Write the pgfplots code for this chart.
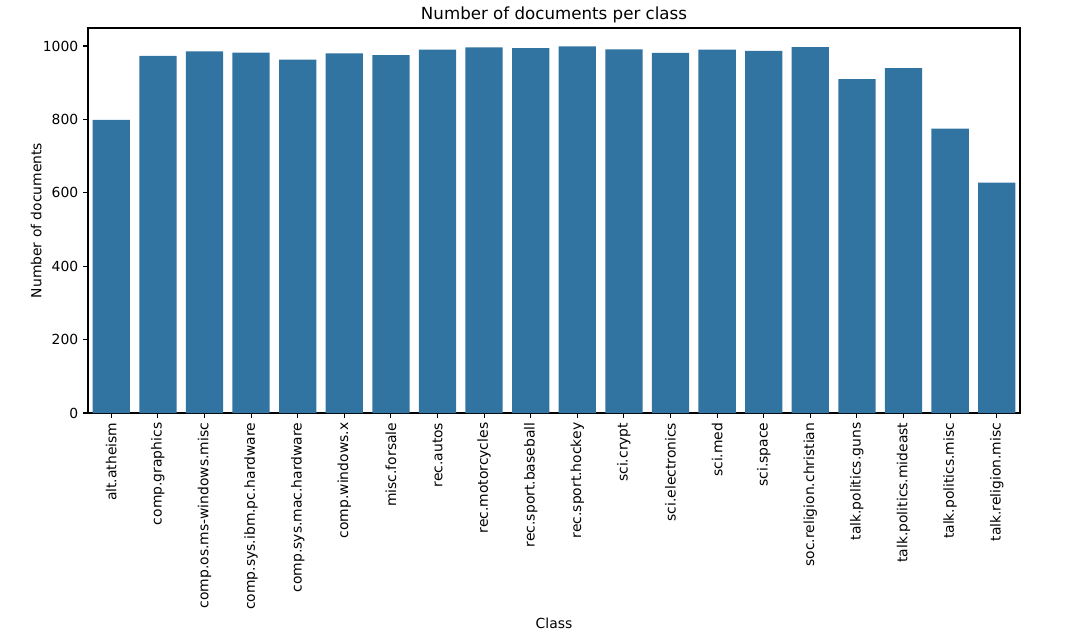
\documentclass[border=0pt]{standalone}
\usepackage{pgfplots}
\pgfplotsset{compat=1.18}
\usepackage{fontspec}
\setmainfont{DejaVu Sans}
\definecolor{barblue}{RGB}{50,116,161}
\begin{document}
\begin{tikzpicture}
% fix page to reference size (1px = 0.72pt)
\path[use as bounding box] (-63.36pt,-158.4pt) rectangle (706.32pt,297.36pt);
\begin{axis}[
at={(0,0)}, anchor=south west,
scale only axis,
width=671.04pt, height=277.2pt,
xmin=-0.5, xmax=19.5,
ymin=0, ymax=1049,
ytick={0,200,400,600,800,1000},
xtick={0,...,19},
xticklabels={alt.atheism,comp.graphics,comp.os.ms-windows.misc,comp.sys.ibm.pc.hardware,comp.sys.mac.hardware,comp.windows.x,misc.forsale,rec.autos,rec.motorcycles,rec.sport.baseball,rec.sport.hockey,sci.crypt,sci.electronics,sci.med,sci.space,soc.religion.christian,talk.politics.guns,talk.politics.mideast,talk.politics.misc,talk.religion.misc},
xticklabel style={rotate=90, anchor=east, font=\fontsize{10}{12}\selectfont},
yticklabel style={font=\fontsize{10}{12}\selectfont, /pgf/number format/1000 sep={}},
/pgf/number format/assume math mode=true,
tick align=outside,
major tick length=3.5pt,
tick style={black, line width=0.8pt},
axis line style={line width=0.8pt},
xtick pos=bottom, ytick pos=left,
title={Number of documents per class},
title style={font=\fontsize{12}{14}\selectfont, yshift=-6pt},
xlabel={Class},
ylabel={Number of documents},
label style={font=\fontsize{10}{12}\selectfont},
ylabel style={yshift=-6pt},
xlabel style={yshift=1pt},
ybar, bar width=0.8, bar shift=0pt,
]
\addplot[fill=barblue, draw=none] coordinates {
(0,799) (1,973) (2,985) (3,982) (4,963) (5,980) (6,975) (7,990) (8,996) (9,994)
(10,999) (11,991) (12,981) (13,990) (14,987) (15,997) (16,910) (17,940) (18,775) (19,628)
};
\end{axis}
\end{tikzpicture}
\end{document}
